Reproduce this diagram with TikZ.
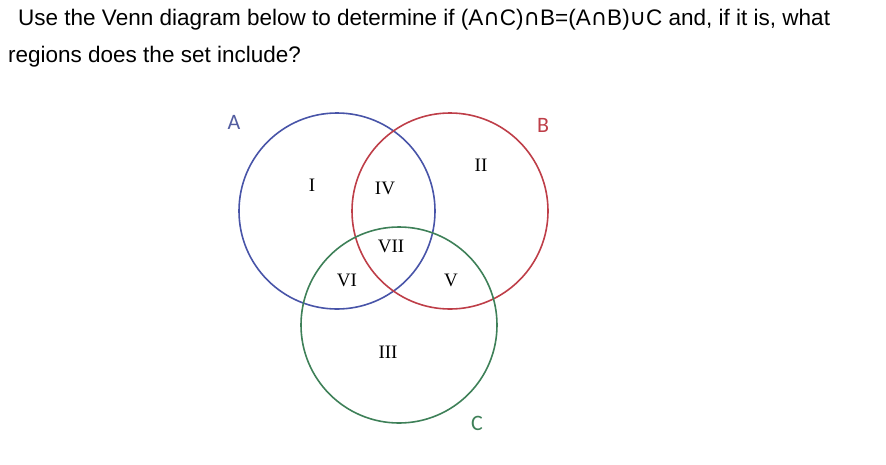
\documentclass[tikz,border=0pt]{standalone}
\usepackage{fontspec}
\setmainfont{Liberation Sans}
\newfontfamily\numfont{Liberation Serif}
\newfontfamily\symfont{DejaVu Sans}
\newfontfamily\lblfont{Carlito}
\definecolor{cA}{RGB}{72,84,168}
\definecolor{cB}{RGB}{190,62,72}
\definecolor{cC}{RGB}{62,128,88}
\newcommand{\capx}{{\symfont ∩}}
\newcommand{\cupx}{{\symfont ∪}}
\begin{document}
\begin{tikzpicture}[x=1pt,y=-1pt,
  circ/.style={line width=1.6pt},
  num/.style={font=\numfont\fontsize{19}{19}\selectfont},
  setlbl/.style={font=\lblfont\fontsize{22}{22}\selectfont},
  txt/.style={anchor=west,inner sep=0pt,font=\fontsize{22.5}{22.5}\selectfont}]
\useasboundingbox (0,0) rectangle (886,464);
\node[txt] (l1) at (18,20) {Use the Venn diagram below to determine if (A\capx C)\capx B=(A\capx B)\cupx C and, if it is, what};
\node[txt] (l2) at (8,57) {regions does the set include?};
\draw[circ,cA] (337,211) circle (98);
\draw[circ,cB] (450,211) circle (98);
\draw[circ,cC] (399,325) circle (98);
\node[setlbl,cA!80!gray] (A) at (234,122) {A};
\node[setlbl,cB] (B) at (543,125) {B};
\node[setlbl,cC] (C) at (477,423) {C};
\node[num] (n1) at (312,185) {I};
\node[num] (n4) at (385,188) {IV};
\node[num] (n2) at (481,165) {II};
\node[num] (n7) at (391,246) {VII};
\node[num] (n6) at (347,280) {VI};
\node[num] (n5) at (451,280) {V};
\node[num] (n3) at (388,352) {III};
\end{tikzpicture}
\end{document}
